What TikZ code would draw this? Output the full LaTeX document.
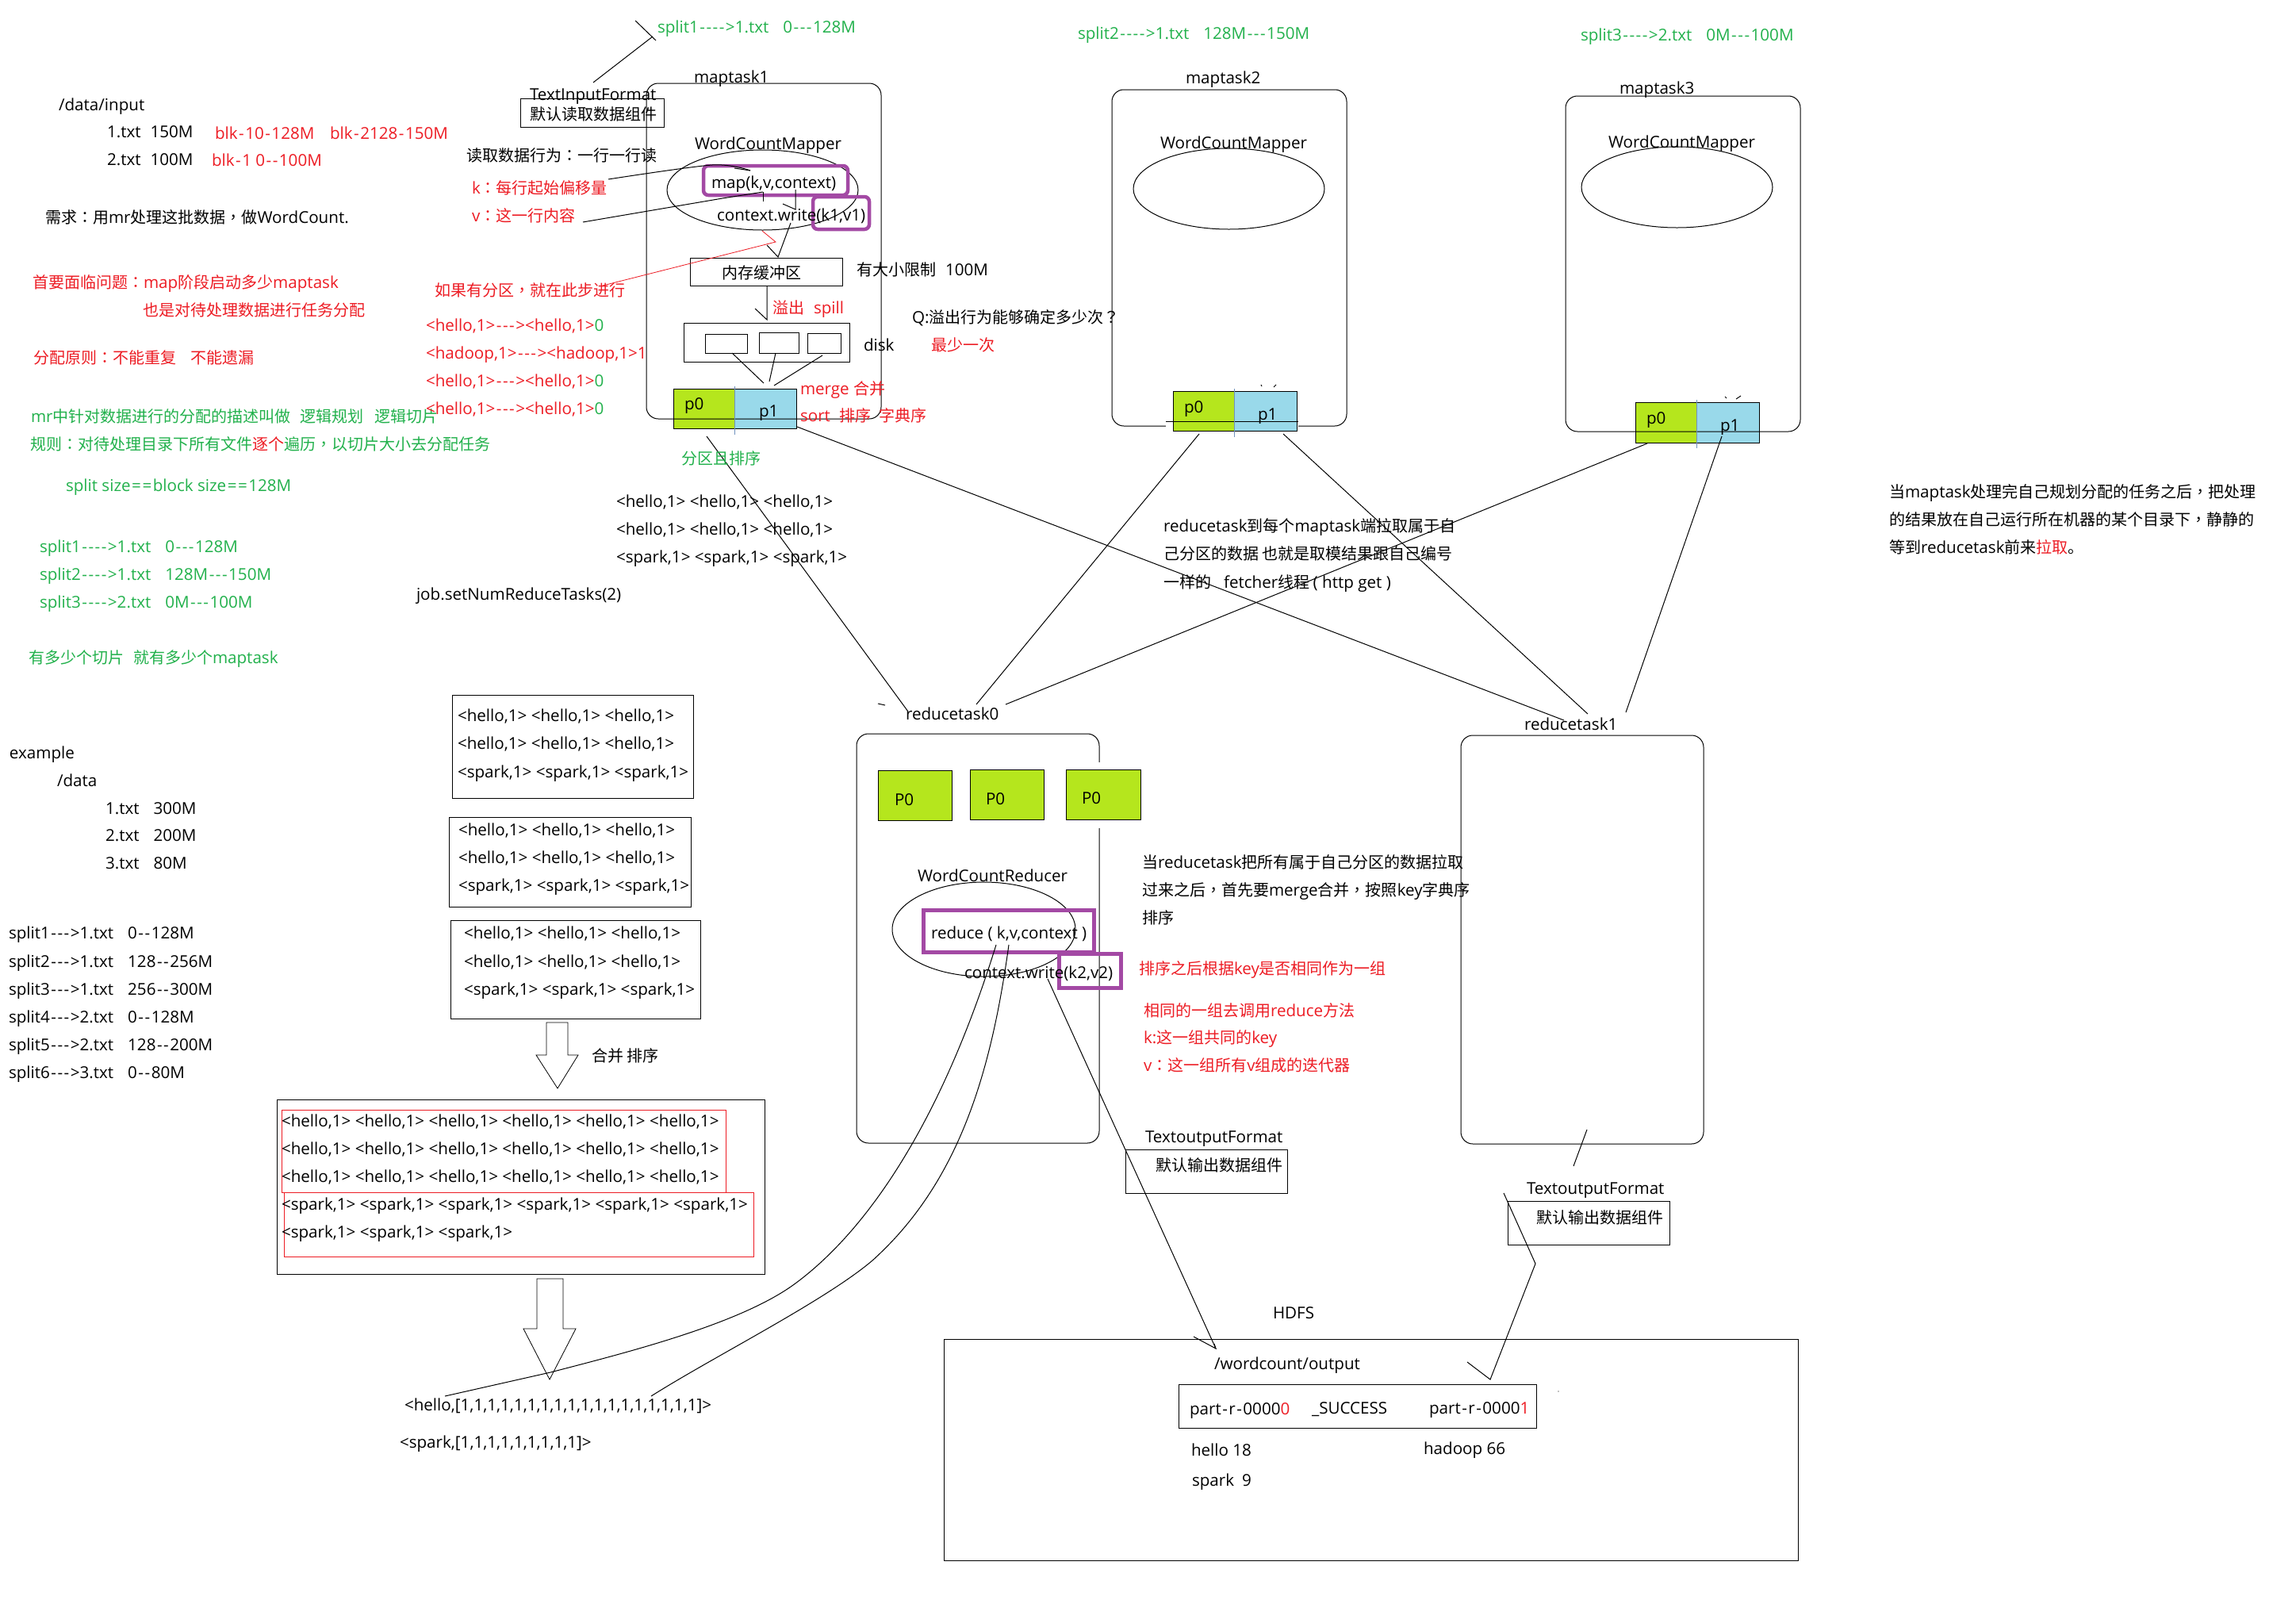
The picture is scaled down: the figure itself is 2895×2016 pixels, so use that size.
\documentclass[tikz,border=0pt]{standalone}
\usepackage{fontspec}
\usetikzlibrary{shapes.geometric}
\newfontfamily\latf[Scale=1.03]{Open Sans}
\newfontfamily\cjkf{Noto Sans CJK SC}
\newfontfamily\punf{Noto Sans CJK TC}
%% automatic font switch between Latin, CJK and centred full-width punctuation
\newcount\cjkn
\XeTeXinterchartokenstate=1
\newXeTeXintercharclass\clsCJK
\newXeTeXintercharclass\clsPUN
\newXeTeXintercharclass\clsDSH
\cjkn="3001
\loop\ifnum\cjkn<"A000 \XeTeXcharclass\cjkn=\clsCJK \advance\cjkn by 1 \repeat
\XeTeXcharclass"FF08=\clsCJK \XeTeXcharclass"FF09=\clsCJK
\XeTeXcharclass"FF1A=\clsPUN \XeTeXcharclass"FF0C=\clsPUN \XeTeXcharclass"FF1F=\clsPUN
\XeTeXcharclass`\-=\clsDSH \XeTeXcharclass`\==\clsDSH
\XeTeXinterchartoks 0 \clsCJK={\cjkf}
\XeTeXinterchartoks 0 \clsPUN={\punf}
\XeTeXinterchartoks \clsCJK 0={\latf}
\XeTeXinterchartoks \clsPUN 0={\latf}
\XeTeXinterchartoks \clsCJK \clsPUN={\punf}
\XeTeXinterchartoks \clsPUN \clsCJK={\cjkf}
\XeTeXinterchartoks 4095 0={\latf}
\XeTeXinterchartoks 4095 \clsCJK={\cjkf}
\XeTeXinterchartoks 4095 \clsPUN={\punf}
\XeTeXinterchartoks 4095 \clsDSH={\latf}
\XeTeXinterchartoks 0 \clsDSH={\kern1.5pt}
\XeTeXinterchartoks \clsDSH 0={\kern1.5pt}
\XeTeXinterchartoks \clsDSH \clsDSH={\kern1.5pt}
\definecolor{pred}{HTML}{ED1C24}
\definecolor{pgreen}{HTML}{22B14C}
\definecolor{plime}{HTML}{B5E61D}
\definecolor{psky}{HTML}{99D9EA}
\definecolor{ppurple}{HTML}{A349A4}
\definecolor{pslate}{HTML}{7092BE}
\newcommand{\rd}[1]{\textcolor{pred}{#1}}
\newcommand{\gr}[1]{\textcolor{pgreen}{#1}}
\newcommand{\bx}[6][]{\node[draw,inner sep=0pt,outer sep=0pt,minimum width={#5-#3},minimum height={#6-#4},#1] (#2) at ({(#3+#5)/2},{(#4+#6)/2}) {};}
\newcommand{\hs}[1]{\hspace*{#1pt}}
\tikzset{
 txt/.style={anchor=west,inner sep=0pt,outer sep=0pt,text height=17pt,text depth=2pt,font=\latf\fontsize{20}{20}\selectfont},
 tr/.style={txt,text=pred},
 tg/.style={txt,text=pgreen},
 ln/.style={line width=1pt},
 ell/.style={ellipse,draw,line width=1pt,inner sep=0pt,outer sep=0pt},
 task/.style={line width=1pt,rounded corners=15pt},
 flat/.style={line width=1pt},
 pur/.style={draw=ppurple,line width=4.5pt,rounded corners=6pt},
 purs/.style={draw=ppurple,line width=5pt},
 lim/.style={fill=plime,line width=.8pt},
 sky/.style={fill=psky,line width=.8pt},
 wht/.style={draw=none,fill=white},
 redb/.style={draw=pred,line width=.8pt},
}
\begin{document}
\begin{tikzpicture}[x=1pt,y=-1pt]
\useasboundingbox (0,0) rectangle (2895,2016);
\fill[white] (0,0) rectangle (2895,2016);

%% coloured partition blocks (below the task outlines where these cross them)
\bx[lim]{pa0}{849}{490}{926}{540}
\bx[sky]{pa1}{926}{490}{1004}{540}
\bx[lim]{pc0}{2062}{507}{2139}{558}
\bx[sky]{pc1}{2139}{507}{2218}{558}

%% tasks
\bx[task]{maptaskA}{815}{105}{1111}{528}
\bx[task]{maptaskB}{1402}{113}{1698}{537}
\bx[task]{maptaskC}{1974}{121}{2270}{544}
\bx[task]{reduceA}{1080}{925}{1386}{1441}
\bx[task]{reduceB}{1842}{927}{2148}{1442}
\bx[wht]{gapB}{1470}{525}{1637}{545}
\bx[lim]{pb0}{1479}{493}{1556}{543}
\bx[sky]{pb1}{1556}{493}{1635}{543}
\bx[wht]{gapR}{1381}{961}{1391}{1044}
\bx[lim]{rp0}{1107}{971}{1200}{1034}
\bx[lim]{rp1}{1223}{970}{1316}{1033}
\bx[lim]{rp2}{1344}{970}{1438}{1033}

%% plain boxes
\bx[flat]{tifb}{656}{124}{837}{160}
\bx[flat]{buf}{870}{325}{1062}{360}
\bx[flat]{disk}{862}{407}{1071}{456}
\bx[flat]{spA}{889}{421}{942}{445}
\bx[flat]{spB}{957}{419}{1007}{445}
\bx[flat]{spC}{1018}{420}{1060}{445}
\bx[flat]{hlA}{570}{876}{874}{1006}
\bx[flat]{hlB}{566}{1030}{871}{1143}
\bx[flat]{hlC}{568}{1160}{883}{1284}
\bx[flat]{hlD}{349}{1386}{964}{1606}
\bx[redb]{hlDa}{355}{1399}{915}{1503}
\bx[redb]{hlDb}{358}{1503}{950}{1584}
\bx[flat]{tofA}{1419}{1449}{1623}{1504}
\bx[flat]{tofB}{1901}{1514}{2105}{1569}
\bx[flat]{hdfs}{1190}{1688}{2267}{1967}
\bx[flat]{parts}{1486}{1745}{1937}{1800}

%% ellipses
\node[ell,minimum width=241pt,minimum height=101pt] (elA) at (961.5,239.5) {};
\node[ell,minimum width=241pt,minimum height=102pt] (elB) at (1549.5,238) {};
\node[ell,minimum width=241pt,minimum height=102pt] (elC) at (2114.5,236) {};
\node[ell,minimum width=231pt,minimum height=119pt] (elR) at (1240.5,1171.5) {};

%% purple frames
\bx[pur]{purA}{887}{209}{1069}{246}
\bx[pur]{purB}{1025}{248}{1096}{289}
\bx[purs]{purC}{1164}{1147}{1379}{1200}
\bx[purs]{purD}{1335}{1202}{1413}{1245}

%% free ends of connectors
\coordinate (sA) at (801,26); \coordinate (sB) at (827,51); \coordinate (sC) at (823,46); \coordinate (sD) at (748,104);
\coordinate (kA) at (767,226); \coordinate (kB) at (898,208); \coordinate (kC) at (946,215); \coordinate (kD) at (926,212);
\coordinate (vA) at (735,280); \coordinate (vB) at (911,250); \coordinate (vC) at (962,242); \coordinate (vD) at (962,254);
\coordinate (cA) at (1003,239); \coordinate (cB) at (1003,264); \coordinate (cC) at (987,257);
\coordinate (dA) at (997,281); \coordinate (dB) at (981,324); \coordinate (dC) at (967,309);
\coordinate (rA) at (961,291); \coordinate (rB) at (978,305); \coordinate (rC) at (760,360);
\coordinate (eA) at (967,360); \coordinate (eB) at (967,403); \coordinate (eC) at (952,389);
\coordinate (mA) at (923,445); \coordinate (mB) at (963,483);
\coordinate (mC) at (978,445); \coordinate (mD) at (970,481);
\coordinate (mE) at (1037,448); \coordinate (mF) at (976,486);
\coordinate (oA) at (891,550); \coordinate (oB) at (1145,897); \coordinate (oC) at (1107,887); \coordinate (oD) at (1116,889);
\coordinate (oE) at (1005,538); \coordinate (oF) at (1972,908);
\coordinate (oG) at (1512,547); \coordinate (oH) at (1231,888);
\coordinate (oI) at (1618,547); \coordinate (oJ) at (2002,900);
\coordinate (oK) at (2077,559); \coordinate (oL) at (1268,888);
\coordinate (oM) at (2171,550); \coordinate (oN) at (2050,898);
\coordinate (bA) at (1470,531); \coordinate (bB) at (1637,531);
\coordinate (tA) at (1590,485); \coordinate (tB) at (1591,487); \coordinate (tC) at (1606,488); \coordinate (tD) at (1609,485);
\coordinate (tE) at (2175,500); \coordinate (tF) at (2177,502); \coordinate (tG) at (2189,503); \coordinate (tH) at (2195,499);
\coordinate (uA) at (1256,1191); \coordinate (uB) at (1185,1420); \coordinate (uC) at (1090,1555); \coordinate (uD) at (1000,1620); \coordinate (uE) at (930,1670); \coordinate (uF) at (790,1705); \coordinate (uG) at (694,1730); \coordinate (uH) at (561,1760);
\coordinate (wA) at (1272,1191); \coordinate (wB) at (1250,1350); \coordinate (wC) at (1210,1490); \coordinate (wD) at (1100,1589); \coordinate (wE) at (1040,1640); \coordinate (wF) at (900,1710); \coordinate (wG) at (821,1760);
\coordinate (xA) at (1321,1234); \coordinate (xB) at (1533,1700); \coordinate (xC) at (1505,1685); \coordinate (xD) at (1531,1694);
\coordinate (yA) at (2001,1424); \coordinate (yB) at (1984,1470);
\coordinate (zA) at (1896,1504); \coordinate (zB) at (1936,1593); \coordinate (zC) at (1879,1739); \coordinate (zD) at (1850,1717);

%% connectors
\draw[ln] (sA)--(sB); \draw[ln] (sC)--(sD);
\draw[ln] plot[smooth,tension=.5] coordinates {(kA)(kB)(kC)}; \draw[ln] (kD)--(kC);
\draw[ln] (vA)--(vB)--(vC); \draw[ln] (vC)--(vD);
\draw[ln] (cA)--(cB)--(cC);
\draw[ln] (dA)--(dB)--(dC);
\draw[pred,line width=.8pt] (rA)--(rB)--(rC);
\draw[ln] (eA)--(eB)--(eC);
\draw[ln] (mA)--(mB); \draw[ln] (mC)--(mD); \draw[ln] (mE)--(mF);
\draw[ln] (oA)--(oB); \draw[ln] (oC)--(oD);
\draw[ln] (oE)--(oF); \draw[ln] (oG)--(oH); \draw[ln] (oI)--(oJ); \draw[ln] (oK)--(oL); \draw[ln] (oM)--(oN);
\draw[ln] (bA)--(bB);
\draw[ln] (tA)--(tB); \draw[ln] (tC)--(tD); \draw[ln] (tE)--(tF); \draw[ln] (tG)--(tH);
\draw[ln] (uA) .. controls (uB) and (uC) .. (uD) .. controls (uE) and (uF) .. (uG) -- (uH);
\draw[ln] (wA) .. controls (wB) and (wC) .. (wD) .. controls (wE) and (wF) .. (wG);
\draw[ln] (xA)--(xB)--(xC); \draw[ln] (xB)--(xD);
\draw[ln] (yA)--(yB);
\draw[ln] (zA)--(zB)--(zC)--(zD);
%% partition separators
\coordinate (vsA) at (926,487); \coordinate (vsB) at (926,548); \draw[pslate,line width=.8pt] (vsA)--(vsB);
\coordinate (vsC) at (1556,490); \coordinate (vsD) at (1556,551); \draw[pslate,line width=.8pt] (vsC)--(vsD);
\coordinate (vsE) at (2139,504); \coordinate (vsF) at (2139,565); \draw[pslate,line width=.8pt] (vsE)--(vsF);
%% block arrows
\draw[line width=.8pt] (689,1289)--(716,1289)--(716,1330)--(729,1330)--(703,1372)--(676,1330)--(689,1330)--cycle;
\draw[line width=.8pt] (677,1612)--(710,1612)--(710,1675)--(726,1675)--(693,1739)--(660,1675)--(677,1675)--cycle;
\coordinate (dotA) at (1965,1754); \fill (dotA) circle (.6pt);

%% left column
\node[txt] (dataIn) at (74,132) {/data/input};
\node[txt] (f1) at (135,166) {1.txt\hs{12}150M};
\node[tr] (f1a) at (271,168) {blk-10-128M};
\node[tr] (f1b) at (416,168) {blk-2128-150M};
\node[txt] (f2) at (135,201) {2.txt\hs{12}100M};
\node[tr] (f2a) at (267,202) {blk-1 0--100M};
\node[txt] (need) at (57,274) {需求：用mr处理这批数据，做WordCount.};
\node[tr] (qa) at (41,356) {首要面临问题：map阶段启动多少maptask};
\node[tr] (qb) at (180,391) {也是对待处理数据进行任务分配};
\node[tr] (qc) at (42,451) {分配原则：不能重复\hs{18}不能遗漏};
\node[tg] (ga) at (39,525) {mr中针对数据进行的分配的描述叫做\hs{12}逻辑规划\hs{14}逻辑切片};
\node[tg] (gb) at (38,560) {规则：对待处理目录下所有文件\rd{逐个}遍历，以切片大小去分配任务};
\node[tg] (gc) at (83,612) {split size==block size==128M};
\node[tg] (ga1) at (50,689) {split1---->1.txt\hs{18}0---128M};
\node[tg] (ga2) at (50,724) {split2---->1.txt\hs{18}128M---150M};
\node[tg] (ga3) at (50,759) {split3---->2.txt\hs{18}0M---100M};
\node[tg] (gd) at (36,829) {有多少个切片\hs{12}就有多少个maptask};
\node[txt] (job) at (525,749) {job.setNumReduceTasks(2)};

\node[txt] (ex) at (12,949) {example};
\node[txt] (exd) at (72,984) {/data};
\node[txt] (ex1) at (133,1019) {1.txt\hs{18}300M};
\node[txt] (ex2) at (133,1053) {2.txt\hs{18}200M};
\node[txt] (ex3) at (133,1088) {3.txt\hs{18}80M};
\node[txt] (sa) at (11,1176) {split1--->1.txt\hs{18}0--128M};
\node[txt] (sb) at (11,1212) {split2--->1.txt\hs{18}128--256M};
\node[txt] (sc) at (11,1247) {split3--->1.txt\hs{18}256--300M};
\node[txt] (sd) at (11,1282) {split4--->2.txt\hs{18}0--128M};
\node[txt] (se) at (11,1317) {split5--->2.txt\hs{18}128--200M};
\node[txt] (sf) at (11,1352) {split6--->3.txt\hs{18}0--80M};

%% map side
\node[tg] (sp1) at (829,34) {split1---->1.txt\hs{18}0---128M};
\node[tg] (sp2) at (1359,42) {split2---->1.txt\hs{18}128M---150M};
\node[tg] (sp3) at (1993,44) {split3---->2.txt\hs{18}0M---100M};
\node[txt] (tif) at (668,119) {TextInputFormat};
\node[txt] (tifz) at (668,144) {默认读取数据组件};
\node[txt] (mt1) at (875,97) {maptask1};
\node[txt] (mt2) at (1495,98) {maptask2};
\node[txt] (mt3) at (2042,111) {maptask3};
\node[txt] (wc1) at (876,181) {WordCountMapper};
\node[txt] (wc2) at (1463,180) {WordCountMapper};
\node[txt] (wc3) at (2028,179) {WordCountMapper};
\node[txt] (rd) at (588,196) {读取数据行为：一行一行读};
\node[tr] (kk) at (595,237) {k：每行起始偏移量};
\node[tr] (vv) at (595,272) {v：这一行内容};
\node[txt] (mapt) at (897,230) {map(k,v,context)};
\node[txt] (cw) at (904,271) {context.write(k1,v1)};
\node[tr] (ifp) at (548,366) {如果有分区，就在此步进行};
\node[txt,anchor=center] (buft) at (960,344) {内存缓冲区};
\node[txt] (lim) at (1080,340) {有大小限制\hs{12}100M};
\node[tr] (spill) at (974,388) {溢出\hs{12}spill};
\node[txt] (diskt) at (1089,435) {disk};
\node[txt] (qq) at (1150,400) {Q:溢出行为能够确定多少次？};
\node[tr] (qmin) at (1174,435) {最少一次};
\node[tr] (pra) at (537,410) {<hello,1>---><hello,1>\gr{0}};
\node[tr] (prb) at (537,445) {<hadoop,1>---><hadoop,1>1};
\node[tr] (prc) at (537,480) {<hello,1>---><hello,1>\gr{0}};
\node[tr] (prd) at (537,515) {<hello,1>---><hello,1>\gr{0}};
\node[txt] (pa0t) at (863,509) {p0};
\node[txt] (pa1t) at (957,518) {p1};
\node[txt] (pb0t) at (1493,513) {p0};
\node[txt] (pb1t) at (1586,522) {p1};
\node[txt] (pc0t) at (2076,527) {p0};
\node[txt] (pc1t) at (2169,536) {p1};
\node[tr] (mrg) at (1009,490) {merge 合并};
\node[tr] (srt) at (1009,524) {sort\hs{12}排序\hs{10}字典序};
\node[tg] (fq) at (859,578) {分区且排序};
\node[txt] (oa) at (777,632) {<hello,1> <hello,1> <hello,1>};
\node[txt] (ob) at (777,667) {<hello,1> <hello,1> <hello,1>};
\node[txt] (oc) at (777,702) {<spark,1> <spark,1> <spark,1>};

%% hello boxes
\node[txt] (aa) at (577,902) {<hello,1> <hello,1> <hello,1>};
\node[txt] (ab) at (577,937) {<hello,1> <hello,1> <hello,1>};
\node[txt] (ac) at (577,973) {<spark,1> <spark,1> <spark,1>};
\node[txt] (ba) at (578,1046) {<hello,1> <hello,1> <hello,1>};
\node[txt] (bb) at (578,1081) {<hello,1> <hello,1> <hello,1>};
\node[txt] (bc) at (578,1116) {<spark,1> <spark,1> <spark,1>};
\node[txt] (ca) at (585,1176) {<hello,1> <hello,1> <hello,1>};
\node[txt] (cb) at (585,1212) {<hello,1> <hello,1> <hello,1>};
\node[txt] (cc) at (585,1247) {<spark,1> <spark,1> <spark,1>};
\node[txt] (hb) at (746,1331) {合并 排序};
\node[txt] (da) at (355,1413) {<hello,1> <hello,1> <hello,1> <hello,1> <hello,1> <hello,1>};
\node[txt] (db) at (355,1448) {<hello,1> <hello,1> <hello,1> <hello,1> <hello,1> <hello,1>};
\node[txt] (dc) at (355,1483) {<hello,1> <hello,1> <hello,1> <hello,1> <hello,1> <hello,1>};
\node[txt] (dd) at (355,1518) {<spark,1> <spark,1> <spark,1> <spark,1> <spark,1> <spark,1>};
\node[txt] (de) at (355,1553) {<spark,1> <spark,1> <spark,1>};
\node[txt] (lh) at (510,1771) {<hello,[1,1,1,1,1,1,1,1,1,1,1,1,1,1,1,1,1,1]>};
\node[txt] (ls) at (504,1818) {<spark,[1,1,1,1,1,1,1,1,1]>};

%% middle texts
\node[txt] (fa) at (1467,663) {reducetask到每个maptask端拉取属于自};
\node[txt] (fb) at (1467,698) {己分区的数据 也就是取模结果跟自己编号};
\node[txt] (fc) at (1467,734) {一样的\hs{16}fetcher线程 ( http get )};
\node[txt] (ra) at (2382,620) {当maptask处理完自己规划分配的任务之后，把处理};
\node[txt] (rb) at (2382,655) {的结果放在自己运行所在机器的某个目录下，静静的};
\node[txt] (rc) at (2382,690) {等到reducetask前来\rd{拉取}。};

%% reduce side
\node[txt] (rt0) at (1142,900) {reducetask0};
\node[txt] (rt1) at (1922,913) {reducetask1};
\node[txt] (p0a) at (1128,1008) {P0};
\node[txt] (p0b) at (1243,1007) {P0};
\node[txt] (p0c) at (1364,1006) {P0};
\node[txt] (wcr) at (1157,1104) {WordCountReducer};
\node[txt] (rdt) at (1174,1176) {reduce ( k,v,context )};
\node[txt] (cw2) at (1216,1226) {context.write(k2,v2)};
\node[txt] (wa) at (1440,1087) {当reducetask把所有属于自己分区的数据拉取};
\node[txt] (wb) at (1440,1122) {过来之后，首先要merge合并，按照key字典序};
\node[txt] (wc) at (1440,1157) {排序};
\node[tr] (wd) at (1436,1221) {排序之后根据key是否相同作为一组};
\node[tr] (we) at (1442,1274) {相同的一组去调用reduce方法};
\node[tr] (wf) at (1442,1308) {k:这一组共同的key};
\node[tr] (wg) at (1442,1343) {v：这一组所有v组成的迭代器};
\node[txt] (tf1) at (1444,1433) {TextoutputFormat};
\node[txt] (tf1z) at (1457,1469) {默认输出数据组件};
\node[txt] (tf2) at (1925,1498) {TextoutputFormat};
\node[txt] (tf2z) at (1937,1535) {默认输出数据组件};
\node[txt] (hd) at (1605,1655) {HDFS};
\node[txt] (wco) at (1531,1719) {/wordcount/output};
\node[txt] (pr0) at (1500,1776) {part-r-0000\rd{0}};
\node[txt] (suc) at (1654,1775) {\_SUCCESS};
\node[txt] (pr1) at (1802,1775) {part-r-0000\rd{1}};
\node[txt] (h18) at (1502,1828) {hello 18};
\node[txt] (sp9) at (1503,1866) {spark\hs{10}9};
\node[txt] (h66) at (1795,1826) {hadoop 66};
\end{tikzpicture}
\end{document}
